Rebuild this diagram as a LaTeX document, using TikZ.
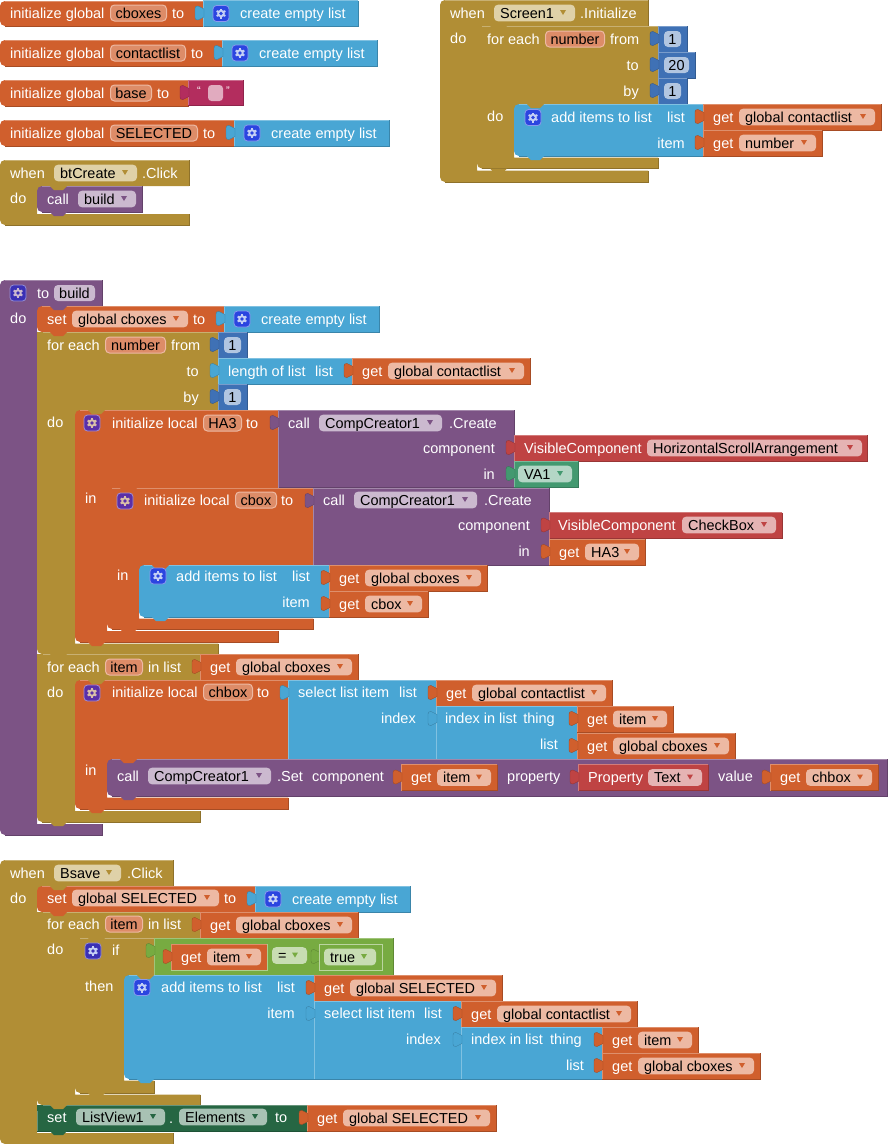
\documentclass[tikz,border=0pt]{standalone}
\usepackage{fontspec}
\setmainfont{Liberation Sans}
\definecolor{cO}{HTML}{D05F2D}
\definecolor{cB}{HTML}{49A6D4}
\definecolor{cE}{HTML}{B18E35}
\definecolor{cP}{HTML}{7C5385}
\definecolor{cN}{HTML}{3F71B5}
\definecolor{cM}{HTML}{B32D5E}
\definecolor{cR}{HTML}{BF4343}
\definecolor{cT}{HTML}{439970}
\definecolor{cL}{HTML}{77AB41}
\definecolor{cD}{HTML}{266643}
\definecolor{fO}{HTML}{EDB9A3}
\definecolor{fE}{HTML}{DFD1A8}
\definecolor{fP}{HTML}{CBB9CF}
\definecolor{fR}{HTML}{E5B3B3}
\definecolor{fT}{HTML}{B4D6C6}
\definecolor{fL}{HTML}{C8DDB3}
\definecolor{fD}{HTML}{A8C2B4}
\definecolor{fN}{HTML}{B2C6E1}
\definecolor{fM}{HTML}{E1ABBF}
\definecolor{gA}{HTML}{2B45E0}
\definecolor{gB}{HTML}{5A2FA8}
\definecolor{gC}{HTML}{3A30B5}
\definecolor{gD}{HTML}{C5D0F5}
\definecolor{gE}{HTML}{D8BFA8}
\tikzset{
  wl/.style={text=white,inner sep=0pt,font=\fontsize{14.5}{16}\selectfont},
  kl/.style={text=black,inner sep=0pt,font=\fontsize{14.45}{16}\selectfont},
  qt/.style={text=white,inner sep=0pt,font=\fontsize{11}{12}\selectfont},
  edge/.style={line width=.7pt}
}
% white label: left edge / right edge
\newcommand{\tL}[3]{\node[wl,anchor=base west] at (#1,#2+5) {#3};}
\newcommand{\tR}[3]{\node[wl,anchor=base east] at (#1,#2+5) {#3};}
% puzzle tab on the left of a value block
\newcommand{\tabv}[3]{\filldraw[fill=#1,draw=#1!78!black,line width=.4pt,shift={(#2,#3)}]
  (1,8.5) .. controls (-2,8.5) and (-2,5.5) .. (-5,5.5) .. controls (-7,5.5) and (-8,6) .. (-8,8)
  -- (-8,17) .. controls (-8,19) and (-7,19.5) .. (-5,19.5) .. controls (-2,19.5) and (-2,16.5) .. (1,16.5) -- cycle;}
% rectangle value block: colour x1 y1 x2 y2
\newcommand{\vrect}[5]{\fill[#1] (#2,#3) rectangle (#4,#5);
  \draw[edge,#1!80!black] (#4,#3) -- (#4,#5) -- (#2,#5);
  \draw[edge,#1!70!white] (#2,#5) -- (#2,#3) -- (#4,#3);}
\newcommand{\vb}[5]{\vrect{#1}{#2}{#3}{#4}{#5}\tabv{#1}{#2}{#3}}
% statement block, rounded on the left
\newcommand{\sbk}[5]{\fill[#1,rounded corners=5pt] (#2,#3) rectangle (#4,#5);
  \fill[#1] (#4-8,#3) rectangle (#4,#5);
  \draw[edge,#1!80!black] (#4,#3) -- (#4,#5) -- (#2+5,#5);
  \draw[edge,#1!70!white] (#2+5,#3) -- (#4,#3);}
% C shaped block: colour x0 y0 xtop ymid xarm ybar xbot ybot
\newcommand{\cb}[9]{\fill[#1] (#4,#3) -- (#4,#5) -- (#6,#5) -- (#6,#7) -- (#8,#7) -- (#8,#9)
    [rounded corners=5pt] -- (#2,#9) -- (#2,#3) [sharp corners] -- (#4,#3) -- cycle;
  \fill[#1] (#6,#5) rectangle (#6+6,#5+6);
  \draw[edge,#1!80!black] (#4,#3) -- (#4,#5);
  \draw[edge,#1!80!black] (#8,#7) -- (#8,#9) -- (#2+5,#9);
  \draw[edge,#1!70!white] (#2+5,#3) -- (#4,#3);}
% square off a top left corner
\newcommand{\sq}[3]{\fill[#1] (#2,#3) rectangle (#2+6,#3+6);}
% notch or tab of a statement
\newcommand{\nt}[3]{\fill[#1] (#2+13,#3) -- (#2+17,#3+4) -- (#2+26,#3+4) -- (#2+30,#3) -- cycle;}
% drop-down field: x1 x2 yc light base text
\newcommand{\ddf}[6]{\fill[#4,rounded corners=4pt] (#1,#3-8.3) rectangle (#2,#3+8.3);
  \node[kl,anchor=base west] at (#1+6,#3+5) {#6};
  \fill[#5] (#2-15,#3-3) -- (#2-9,#3-3) -- (#2-12,#3+2) -- cycle;}
% rename field on orange
\newcommand{\nf}[4]{\filldraw[fill=cO!72!white,draw=fO,line width=1pt,rounded corners=4pt] (#1+.5,#3-8) rectangle (#2-.5,#3+8);
  \node[kl,anchor=base] at ({(#1+#2)/2},#3+5) {#4};}
% gear: x y background gear-colour
\newcommand{\gr}[4]{\filldraw[fill=#3,draw=#3!55!white,line width=.8pt,rounded corners=3.5pt] (#1,#2) rectangle (#1+16,#2+16);
  \foreach \a in {30,90,...,330}{\draw[#4,line width=1.9pt,shift={(#1+8,#2+8)}] (\a:2) -- (\a:5);}
  \fill[#4] (#1+8,#2+8) circle (3.8pt);
  \fill[#3] (#1+8,#2+8) circle (1.8pt);}
% get block: x1 x2 ytop text
\newcommand{\gtb}[4]{\vb{cO}{#1}{#3}{#2}{#3+26}\tL{#1+10}{#3+13}{get}\ddf{#1+36}{#2-6}{#3+13}{fO}{cO}{#4}}
% create empty list: x y
\newcommand{\cel}[2]{\vb{cB}{#1}{#2}{#1+155}{#2+26}\gr{#1+10}{#2+5}{gA}{gD}\tL{#1+37}{#2+13}{create empty list}}
% number: x1 x2 y text
\newcommand{\num}[4]{\vb{cN}{#1}{#3}{#2}{#3+26}\fill[fN,rounded corners=4pt] (#1+6,#3+5) rectangle (#2-6,#3+21);
  \node[kl,anchor=base] at ({(#1+#2)/2},#3+18) {#4};}
\begin{document}
\begin{tikzpicture}[x=1pt,y=-1pt]
\useasboundingbox (0,0) rectangle (888,1144);
% ---------- globals
\sbk{cO}{0}{1}{203}{26}\tL{10}{13}{initialize global}\nf{110}{167}{13}{cboxes}\tL{172}{13}{to}\cel{203}{0.5}
\sbk{cO}{0}{40}{222}{66}\tL{10}{53}{initialize global}\nf{110}{186}{53}{contactlist}\tL{191}{53}{to}\cel{222}{40}
\sbk{cO}{0}{80}{188}{106}\tL{10}{93}{initialize global}\nf{110}{152}{93}{base}\tL{157}{93}{to}
\vb{cM}{188}{80}{243}{105}\node[qt,anchor=base west] at (197,94) {“};\fill[fM,rounded corners=3.5pt] (208,85) rectangle (223,101);\node[qt,anchor=base west] at (226,94) {”};
\sbk{cO}{0}{120}{234}{146}\tL{10}{133}{initialize global}\nf{110}{198}{133}{SELECTED}\tL{203}{133}{to}\cel{234}{120}
% ---------- btCreate
\cb{cE}{0}{160}{189}{186}{37}{214}{189}{225}
\tL{10}{173}{when}\ddf{54}{137}{173}{fE}{cE}{btCreate}\tL{142}{173}{.Click}\tL{10}{198}{do}
\sbk{cP}{37}{186}{142}{212}\tL{47}{199}{call}\ddf{78}{136}{199}{fP}{cP}{build}
\nt{cE}{37}{186}\nt{cP}{37}{212}
% ---------- Screen1
\cb{cE}{440}{0}{648}{26}{477}{170.5}{648}{182}
\tL{450}{13}{when}\ddf{494}{575}{13}{fE}{cE}{Screen1}\tL{580}{13}{.Initialize}\tL{450}{38}{do}
\cb{cE}{477}{26}{658}{104}{514}{157.5}{658}{168.5}
\nt{cE}{477}{26}\nt{cE}{477}{168.5}
\tL{487}{39}{for each}\nf{545}{605}{39}{number}\tL{610}{39}{from}\tR{639}{65}{to}\tR{639}{91}{by}\tL{487}{116}{do}
\num{658}{687}{26}{1}\num{658}{695}{52}{20}\num{658}{687}{78}{1}
\sbk{cB}{514}{104}{703}{156}\nt{cE}{514}{104}\nt{cB}{514}{156}
\gr{525}{109.5}{gA}{gD}\tL{551}{117}{add items to list}\tL{667}{117}{list}\tR{685}{143}{item}
\gtb{703}{881}{104}{global contactlist}\gtb{703}{822}{130}{number}
% ---------- to build
\cb{cP}{0}{280}{102}{306}{37}{824}{102}{835}
\gr{10}{285}{gC}{fP}\tL{37}{293}{to}
\fill[fP,rounded corners=4pt] (54,285) rectangle (95,301);\node[kl,anchor=base] at (74.5,298) {build};
\tL{10}{318}{do}
\sbk{cO}{37}{306}{224}{332}\nt{cP}{37}{306}
\tL{47}{319}{set}\ddf{72}{188}{319}{fO}{cO}{global cboxes}\tL{193}{319}{to}\cel{224}{306}
% first for each
\cb{cE}{37}{332}{218}{410}{75}{643.5}{218}{654}\sq{cE}{37}{332}\nt{cO}{37}{332}
\tL{47}{345}{for each}\nf{105}{166}{345}{number}\tL{171}{345}{from}\tR{199}{371}{to}\tR{199}{397}{by}\tL{47}{422}{do}
\num{218}{247}{332}{1}
\vb{cB}{218}{358}{352}{384}\tL{228}{371}{length of list}\tL{315}{371}{list}
\gtb{352}{530}{358}{global contactlist}
\num{218}{247}{384}{1}
% local HA3
\cb{cO}{75}{410}{278}{488}{107}{631}{278}{642}\nt{cE}{75}{410}
\gr{84}{415}{gB}{gE}\tL{112}{423}{initialize local}\nf{203}{242}{423}{HA3}\tL{246}{423}{to}
\vb{cP}{278}{410}{514}{487.5}\tL{288}{423}{call}\ddf{319}{442}{423}{fP}{cP}{CompCreator1}\tL{449}{423}{.Create}
\tR{495}{448}{component}\tR{495}{474}{in}
\vb{cR}{514}{435}{867}{461}\tL{524}{448}{VisibleComponent}\ddf{647}{862}{448}{fR}{cR}{HorizontalScrollArrangement}
\vb{cT}{514}{461}{578}{487}\ddf{518}{572}{474}{fT}{cT}{VA1}
\tL{85}{498}{in}
% local cbox
\cb{cO}{107}{488}{313}{565}{139}{618.5}{313}{629}\nt{cO}{107}{488}
\gr{117}{493}{gB}{gE}\tL{144}{500}{initialize local}\nf{235}{277}{500}{cbox}\tL{281}{500}{to}
\vb{cP}{313}{488}{549}{565}\tL{323}{500}{call}\ddf{354}{477}{500}{fP}{cP}{CompCreator1}\tL{484}{500}{.Create}
\tR{530}{525}{component}\tR{530}{551}{in}
\vb{cR}{549}{512.5}{782}{538.5}\tL{558}{525}{VisibleComponent}\ddf{682}{776}{525}{fR}{cR}{CheckBox}
\gtb{549}{645}{539}{HA3}
\tL{117}{575}{in}
\sbk{cB}{139}{565}{329}{617}\nt{cO}{139}{565}\nt{cB}{139}{617}
\gr{150}{568}{gA}{gD}\tL{176}{576}{add items to list}\tL{292}{576}{list}\tR{310}{602}{item}
\gtb{329}{487}{565}{global cboxes}\gtb{329}{428}{591}{cbox}
\nt{cO}{107}{629}\nt{cO}{75}{642}
% second for each
\cb{cE}{37}{654}{200}{680}{75}{811}{200}{822}\sq{cE}{37}{654}\nt{cE}{37}{654}\nt{cE}{37}{822}
\tL{47}{667}{for each}\nf{105}{143}{667}{item}\tL{148}{667}{in list}\gtb{200}{358}{654}{global cboxes}\tL{47}{692}{do}
% local chbox
\cb{cO}{75}{680}{288}{759}{107}{797.5}{288}{809}\nt{cE}{75}{680}\nt{cO}{75}{809}
\gr{84}{685}{gB}{gE}\tL{112}{692}{initialize local}\nf{203}{253}{692}{chbox}\tL{257}{692}{to}
\vb{cB}{288}{680}{436}{759}\tL{298}{692}{select list item}\tR{417}{692}{list}\tR{416}{718}{index}
\gtb{436}{612}{680}{global contactlist}
\vb{cB}{436}{706}{577}{759}\tL{445}{718}{index in list}\tR{555}{718}{thing}\tR{558}{744}{list}
\gtb{577}{673}{706}{item}\gtb{577}{735}{733}{global cboxes}
\tL{85}{770}{in}
\sbk{cP}{107}{759}{887}{796}\nt{cO}{107}{759}\nt{cP}{107}{796}
\tL{117}{776}{call}\ddf{148}{271}{776}{fP}{cP}{CompCreator1}\tL{277}{776}{.Set}\tL{312}{776}{component}
\gtb{401}{497}{764.5}{item}\tL{507}{776}{property}
\vb{cR}{578}{764.5}{708}{790.5}\tL{588}{777}{Property}\ddf{648}{702}{777.5}{fR}{cR}{Text}
\tL{718}{776}{value}\gtb{770}{878}{764.5}{chbox}
% ---------- Bsave
\cb{cE}{0}{860}{173}{886}{37}{1133}{173}{1144}
\tL{10}{873}{when}\ddf{54}{121}{873}{fE}{cE}{Bsave}\tL{127}{873}{.Click}\tL{10}{898}{do}
\sbk{cO}{37}{886}{255}{912}\nt{cE}{37}{886}
\tL{47}{898}{set}\ddf{72}{219}{898}{fO}{cO}{global SELECTED}\tL{224}{898}{to}\cel{255}{886}
\cb{cE}{37}{912}{200}{938}{75}{1094.5}{200}{1105}\sq{cE}{37}{912}\nt{cO}{37}{912}
\tL{47}{924}{for each}\nf{105}{143}{924}{item}\tL{148}{924}{in list}\gtb{200}{358}{912}{global cboxes}\tL{47}{949}{do}
% if
\cb{cE}{75}{938}{154}{975}{124}{1080.5}{154}{1093}\nt{cE}{75}{938}
\gr{85}{943}{gC}{gD}\tL{112}{950}{if}\tL{85}{986}{then}
\vb{cL}{154}{938}{393}{975}
\vb{cO}{171}{944}{267}{970}\draw[edge,cL!60!white] (171,970) -- (267,970) -- (267,944);
\tL{181}{957}{get}\ddf{207}{261}{957}{fO}{cO}{item}
\ddf{272}{307}{955.5}{fL}{cL}{=}
\vb{cL}{319}{944}{382}{970}\draw[edge,cL!50!white] (319,944) rectangle (382,970);\ddf{324}{376}{957}{fL}{cL}{true}
\sbk{cB}{124}{975}{314}{1079}\nt{cE}{124}{975}\nt{cB}{124}{1079}
\gr{134}{979.5}{gA}{gD}\tL{161}{987}{add items to list}\tL{277}{987}{list}\tR{295}{1013}{item}
\gtb{314}{502}{975}{global SELECTED}
\vb{cB}{314}{1001}{461}{1079}\tL{324}{1013}{select list item}\tL{424}{1013}{list}\tR{441}{1039}{index}
\gtb{461}{637}{1001}{global contactlist}
\vb{cB}{461}{1027}{602}{1079}\tL{471}{1039}{index in list}\tL{550}{1039}{thing}\tR{584}{1065}{list}
\gtb{602}{698}{1027}{item}\gtb{602}{760}{1053}{global cboxes}
\nt{cE}{75}{1093}
% ListView
\vrect{cD}{37}{1105}{307}{1131}\sq{cD}{37}{1105}\nt{cE}{37}{1105}
\tL{47}{1117}{set}\ddf{76}{165}{1117}{fD}{cD}{ListView1}\tL{169}{1118}{.}\ddf{179}{267}{1117}{fD}{cD}{Elements}\tL{275}{1117}{to}
\gtb{307}{496}{1105}{global SELECTED}
\nt{cD}{37}{1131}
\end{tikzpicture}
\end{document}
